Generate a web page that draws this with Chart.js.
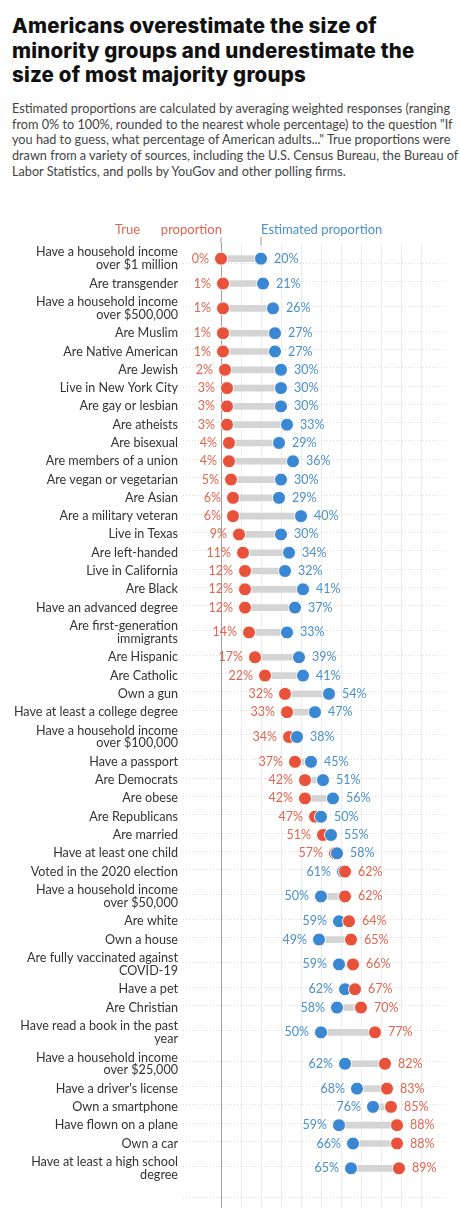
<html lang="en">
<head>
	<meta charset="utf-8">
	<title>True vs estimated proportions</title>
	<script src="https://cdn.jsdelivr.net/npm/chart.js@4"></script>
	<style>
		body {
			margin: 0;
			width: 460px;
			height: 1222px;
			background: #fff;
			font-family: Lato, "Noto Sans", sans-serif;
			position: relative;
			overflow: hidden;
		}

		.title {
			position: absolute;
			left: 12px;
			top: 14px;
			margin: 0;
			font-family: Inter, Lato, sans-serif;
			font-size: 20.5px;
			line-height: 24.5px;
			font-weight: 800;
			letter-spacing: 0.2px;
			color: #111;
			white-space: nowrap;
		}

		.sub {
			position: absolute;
			left: 12px;
			top: 101px;
			margin: 0;
			font-size: 12.7px;
			line-height: 15.7px;
			color: #444;
			white-space: nowrap;
		}

		.wrap {
			position: absolute;
			left: 0;
			top: 200px;
			width: 460px;
			height: 1022px;
		}
	</style>
</head>

<body>
	<h1 class="title">Americans overestimate the size of<br>minority groups and underestimate the<br>size of most majority groups</h1>
	<p class="sub">Estimated proportions are calculated by averaging weighted responses (ranging<br>from 0% to 100%, rounded to the nearest whole percentage) to the question "If<br>you had to guess, what percentage of American adults..." True proportions were<br>drawn from a variety of sources, including the U.S. Census Bureau, the Bureau of<br>Labor Statistics, and polls by YouGov and other polling firms.</p>
	<div class="wrap">
		<canvas id="chart"></canvas>
	</div>
	<script>
		// groups, top to bottom ("\n" = line break in the label)
		const groups = [
			'Have a household income\nover $1 million', 'Are transgender', 'Have a household income\nover $500,000',
			'Are Muslim', 'Are Native American', 'Are Jewish', 'Live in New York City', 'Are gay or lesbian',
			'Are atheists', 'Are bisexual', 'Are members of a union', 'Are vegan or vegetarian', 'Are Asian',
			'Are a military veteran', 'Live in Texas', 'Are left-handed', 'Live in California', 'Are Black',
			'Have an advanced degree', 'Are first-generation\nimmigrants', 'Are Hispanic', 'Are Catholic',
			'Own a gun', 'Have at least a college degree', 'Have a household income\nover $100,000',
			'Have a passport', 'Are Democrats', 'Are obese', 'Are Republicans', 'Are married',
			'Have at least one child', 'Voted in the 2020 election', 'Have a household income\nover $50,000',
			'Are white', 'Own a house', 'Are fully vaccinated against\nCOVID-19', 'Have a pet', 'Are Christian',
			'Have read a book in the past\nyear', 'Have a household income\nover $25,000', "Have a driver's license",
			'Own a smartphone', 'Have flown on a plane', 'Own a car', 'Have at least a high school\ndegree'
		];
		const trueVals = [0, 1, 1, 1, 1, 2, 3, 3, 3, 4, 4, 5, 6, 6, 9, 11, 12, 12, 12, 14, 17, 22, 32, 33, 34,
			37, 42, 42, 47, 51, 57, 62, 62, 64, 65, 66, 67, 70, 77, 82, 83, 85, 88, 88, 89];
		const estVals = [20, 21, 26, 27, 27, 30, 30, 30, 33, 29, 36, 30, 29, 40, 30, 34, 32, 41, 37, 33, 39, 41, 54, 47, 38,
			45, 51, 56, 50, 55, 58, 61, 50, 59, 49, 59, 62, 58, 50, 62, 68, 76, 59, 66, 65];
		const gridTicks = [0, 10, 20, 30, 40, 50, 60, 70, 80, 90, 100];

		const RED = '#e8523a', BLUE = '#3a87d3';
		const RED_TXT = '#df6650', BLUE_TXT = '#4a90c9';

		// row layout: two-line labels get a taller row
		const lines = groups.map(g => g.split('\n'));
		const rowPos = [], rowEnd = [];
		let acc = 0;
		lines.forEach(l => {
			const h = l.length > 1 ? 31.4 : 18.3;
			rowPos.push(acc + h / 2);
			acc += h;
			rowEnd.push(acc - 2);
		});
		const Y_MAX = acc + 24;

		const lowVals = trueVals.map((t, i) => Math.min(t, estVals[i]));
		const highVals = trueVals.map((t, i) => Math.max(t, estVals[i]));
		const lowIsTrue = i => trueVals[i] <= estVals[i];

		const labelsPlugin = {
			id: 'labels',
			afterDatasetsDraw(chart) {
				const { ctx, scales: { x, y }, chartArea } = chart;
				ctx.save();
				ctx.font = '12.5px Lato';
				ctx.textBaseline = 'middle';
				groups.forEach((g, i) => {
					const py = y.getPixelForValue(rowPos[i]);
					ctx.textAlign = 'right';
					ctx.fillStyle = lowIsTrue(i) ? RED_TXT : BLUE_TXT;
					ctx.fillText(lowVals[i] + '%', x.getPixelForValue(lowVals[i]) - 12, py);
					ctx.textAlign = 'left';
					ctx.fillStyle = lowIsTrue(i) ? BLUE_TXT : RED_TXT;
					ctx.fillText(highVals[i] + '%', x.getPixelForValue(highVals[i]) + 13, py);
				});

				// legend labels above the plot
				const x0 = x.getPixelForValue(0), x20 = x.getPixelForValue(20);
				const top = chartArea.top;
				ctx.strokeStyle = '#999';
				ctx.lineWidth = 1;
				ctx.beginPath();
				ctx.moveTo(x0, top - 6); ctx.lineTo(x0, top);
				ctx.moveTo(x20, top - 6); ctx.lineTo(x20, top + 2);
				ctx.stroke();
				ctx.font = '13px Lato';
				ctx.fillStyle = RED_TXT;
				ctx.textAlign = 'right';
				ctx.fillText('proportion', x0 + 1, top - 13);
				ctx.fillText('True', x0 - 81, top - 13);
				ctx.fillStyle = BLUE_TXT;
				ctx.textAlign = 'left';
				ctx.fillText('Estimated proportion', x20, top - 13);
				ctx.restore();
			}
		};

		new Chart(document.getElementById('chart'), {
			type: 'bar',
			data: {
				datasets: [
					{
						type: 'scatter',
						label: 'higher',
						data: highVals.map((v, i) => ({ x: v, y: rowPos[i] })),
						backgroundColor: c => lowIsTrue(c.dataIndex) ? BLUE : RED,
						borderColor: '#fff',
						borderWidth: 1,
						pointRadius: 6.5,
						order: 1
					},
					{
						type: 'scatter',
						label: 'lower',
						data: lowVals.map((v, i) => ({ x: v, y: rowPos[i] })),
						backgroundColor: c => lowIsTrue(c.dataIndex) ? RED : BLUE,
						borderColor: '#fff',
						borderWidth: 1,
						pointRadius: 6.5,
						order: 2
					},
					{
						label: 'gap',
						data: trueVals.map((t, i) => ({ x: [t, estVals[i]], y: rowPos[i] })),
						backgroundColor: '#d4d4d4',
						barThickness: 6,
						order: 3
					}
				]
			},
			options: {
				indexAxis: 'y',
				responsive: true,
				maintainAspectRatio: false,
				animation: false,
				layout: { padding: { top: 43, bottom: 14, left: 0, right: 0 } },
				plugins: { legend: { display: false }, tooltip: { enabled: false } },
				scales: {
					x: { //escala horizontal, %
						type: 'linear',
						min: -19,
						max: 112,
						offset: false,
						afterBuildTicks: s => { s.ticks = gridTicks.map(v => ({ value: v })); },
						afterFit: s => { s.height = 0; s.paddingLeft = 0; s.paddingRight = 0; },
						ticks: { display: false },
						grid: {
							drawTicks: false,
							color: c => c.tick && c.tick.value === 0 ? '#a0a0a0' : '#ececec',
							lineWidth: 1
						},
						border: { display: false }
					},
					y: { //grupos
						type: 'linear',
						reverse: true,
						offset: false,
						min: 0,
						max: Y_MAX,
						afterBuildTicks: s => { s.ticks = rowPos.map(v => ({ value: v })); },
						afterFit: s => { s.width = 183; s.paddingTop = 0; s.paddingBottom = 0; },
						ticks: {
							autoSkip: false,
							padding: 5,
							color: '#333',
							font: { family: 'Lato', size: 12.6, lineHeight: 1.0 },
							callback: (v, i) => lines[i]
						},
						grid: { display: false, drawTicks: false },
						border: { display: false }
					},
					y2: { //linhas pontilhadas entre as linhas
						type: 'linear',
						position: 'right',
						reverse: true,
						offset: false,
						min: 0,
						max: Y_MAX,
						afterBuildTicks: s => { s.ticks = rowEnd.map(v => ({ value: v })); },
						afterFit: s => { s.width = 15; s.paddingTop = 0; s.paddingBottom = 0; },
						ticks: { display: false },
						grid: { drawTicks: false, color: '#dcdcdc', lineWidth: 1 },
						border: { display: false, dash: [1, 2] }
					}
				}
			},
			plugins: [labelsPlugin]
		});
	</script>
</body>

</html>
